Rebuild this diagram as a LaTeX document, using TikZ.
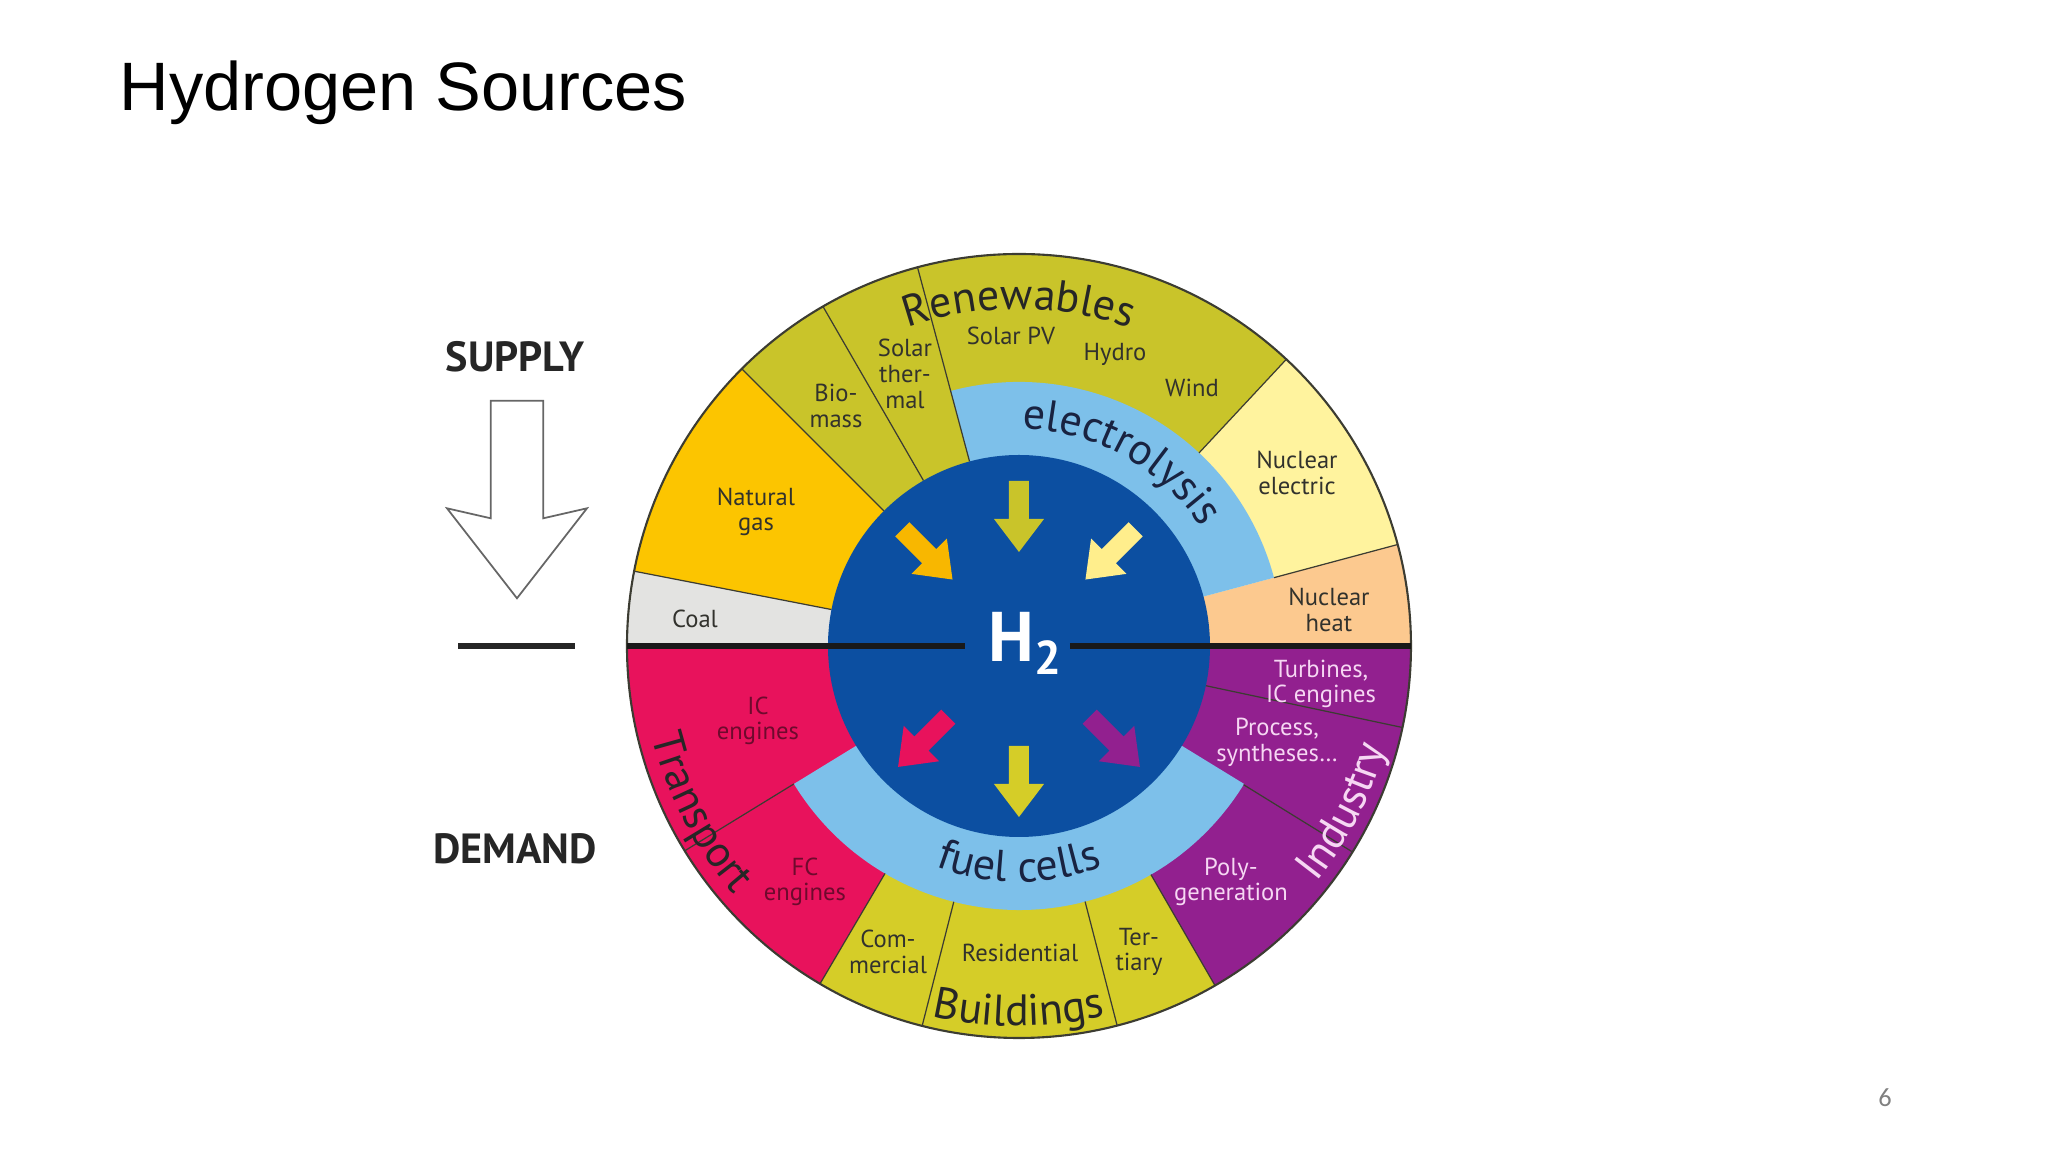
\documentclass[tikz,border=0pt]{standalone}
\usepackage{fontspec}
\setmainfont{PT Sans}
\newfontfamily\titlefont{Liberation Sans}
\newfontfamily\pagefont{Carlito}
\usepackage{tikz}
\usepackage{xcolor}
\usetikzlibrary{decorations.text}

\definecolor{coalgray}{RGB}{227,227,225}
\definecolor{gasgold}{RGB}{252,197,0}
\definecolor{renewolive}{RGB}{201,196,42}
\definecolor{nucpale}{RGB}{255,243,158}
\definecolor{nucpeach}{RGB}{252,201,143}
\definecolor{ringblue}{RGB}{125,192,234}
\definecolor{hubblue}{RGB}{12,79,161}
\definecolor{transred}{RGB}{232,18,92}
\definecolor{buildyellow}{RGB}{213,205,40}
\definecolor{industrypurple}{RGB}{146,32,143}
\definecolor{arroworange}{RGB}{248,183,0}
\definecolor{arrowpale}{RGB}{255,238,140}
\definecolor{divline}{RGB}{60,60,50}
\definecolor{labelgray}{RGB}{50,50,45}
\definecolor{redtext}{RGB}{110,10,45}
\definecolor{pinktext}{RGB}{246,215,243}
\definecolor{navytext}{RGB}{25,35,65}

\begin{document}
\begin{tikzpicture}[x=1cm,y=1cm,
  every node/.style={inner sep=0pt},
  lbl/.style={font=\fontsize{7}{7.3}\selectfont, align=center, text=labelgray},
  sidelbl/.style={font=\fontsize{12}{14}\selectfont\bfseries, text=black!85},
  divider/.style={divline, line width=0.35pt},
  flowarrow/.pic={\fill[#1] (0,0.10) -- (0.38,0.10) -- (0.38,0.25) -- (0.71,0) -- (0.38,-0.25) -- (0.38,-0.10) -- (0,-0.10) -- cycle;}]
\useasboundingbox (-10.19,-5.06) rectangle (10.29,6.46);

% title and page number
\node[anchor=base west] (title) at (-9.0,5.35) {\titlefont\fontsize{19.5}{23}\selectfont Hydrogen Sources};
\node (pageno) at (8.66,-4.52) {\pagefont\fontsize{7.5}{9}\selectfont\color{black!50}6};

% supply / demand side
\node[sidelbl] (supply) at (-5.04,2.89) {SUPPLY};
\node[sidelbl] (demand) at (-5.04,-2.03) {DEMAND};
\draw[black!60, line width=0.5pt, fill=white] (-5.283,2.453) -- (-4.757,2.453) -- (-4.757,1.277) -- (-4.32,1.377) -- (-5.02,0.477) -- (-5.72,1.377) -- (-5.283,1.277) -- cycle;
\draw[black!85, line width=0.06cm] (-5.607,0) -- (-4.44,0);

% outer sectors
\fill[coalgray] (0,0) -- (169:3.92) arc[start angle=169, end angle=180, radius=3.92] -- cycle;
\fill[gasgold] (0,0) -- (135:3.92) arc[start angle=135, end angle=169, radius=3.92] -- cycle;
\fill[renewolive] (0,0) -- (47:3.92) arc[start angle=47, end angle=135, radius=3.92] -- cycle;
\fill[nucpale] (0,0) -- (15:3.92) arc[start angle=15, end angle=47, radius=3.92] -- cycle;
\fill[nucpeach] (0,0) -- (0:3.92) arc[start angle=0, end angle=15, radius=3.92] -- cycle;
\fill[transred] (0,0) -- (180:3.92) arc[start angle=180, end angle=239.5, radius=3.92] -- cycle;
\fill[buildyellow] (0,0) -- (239.5:3.92) arc[start angle=239.5, end angle=300, radius=3.92] -- cycle;
\fill[industrypurple] (0,0) -- (300:3.92) arc[start angle=300, end angle=360, radius=3.92] -- cycle;

% electrolysis and fuel cell rings
\fill[ringblue] (0,0) -- (15:2.64) arc[start angle=15, end angle=105, radius=2.64] -- cycle;
\fill[ringblue] (0,0) -- (211.5:2.64) arc[start angle=211.5, end angle=328.5, radius=2.64] -- cycle;

% dividers
\draw[divider] (169:1.91) -- (169:3.92);
\draw[divider] (135:1.91) -- (135:3.92);
\draw[divider] (120:1.91) -- (120:3.92);
\draw[divider] (105:1.91) -- (105:3.92);
\draw[divider] (47:2.64) -- (47:3.92);
\draw[divider] (15:2.64) -- (15:3.92);
\draw[divider] (211.5:2.64) -- (211.5:3.92);
\draw[divider] (239.5:2.64) -- (239.5:3.92);
\draw[divider] (255.7:2.64) -- (255.7:3.92);
\draw[divider] (284.5:2.64) -- (284.5:3.92);
\draw[divider] (300:2.64) -- (300:3.92);
\draw[divider] (328.3:2.64) -- (328.3:3.92);
\draw[divider] (348:1.91) -- (348:3.92);
\draw[divline, line width=0.6pt] (0,0) circle[radius=3.92];

% hub
\fill[hubblue] (0,0) circle[radius=1.91];
\draw[black!90, line width=0.06cm] (180:3.92) -- (-0.54,0);
\draw[black!90, line width=0.06cm] (0.51,0) -- (0:3.92);
\node[anchor=base west, text=white] (htwo) at (-0.31,-0.16) {\fontsize{20}{20}\selectfont\bfseries H\raisebox{-0.13cm}{\fontsize{13.5}{14}\selectfont 2}};

% flows into and out of the hub
\pic[rotate=-90] at (90:1.65) {flowarrow=renewolive};
\pic[rotate=-45] at (135:1.65) {flowarrow=arroworange};
\pic[rotate=225] at (45:1.65) {flowarrow=arrowpale};
\pic[rotate=225] at (225:1.0) {flowarrow=transred};
\pic[rotate=270] at (270:1.0) {flowarrow=buildyellow};
\pic[rotate=315] at (315:1.0) {flowarrow=industrypurple};

% curved titles
\path[decorate, decoration={text along path, text align=center, text color=black!85, text={|\fontsize{12.5}{14}\selectfont|Renewables}}] (140:3.37) arc[start angle=140, end angle=40, radius=3.37];
\path[decorate, decoration={text along path, text align=center, text color=navytext, text={|\fontsize{12.5}{14}\selectfont|electrolysis}}] (101:2.17) arc[start angle=101, end angle=21, radius=2.17];
\path[decorate, decoration={text along path, text align=center, text color=navytext, text={|\fontsize{12.5}{14}\selectfont|fuel cells}}] (230:2.36) arc[start angle=230, end angle=310, radius=2.36];
\path[decorate, decoration={text along path, text align=center, text color=black!85, text={|\fontsize{12.5}{14}\selectfont|Buildings}}] (230:3.80) arc[start angle=230, end angle=310, radius=3.80];
\path[decorate, decoration={text along path, text align=center, text color=black!85, text={|\fontsize{12.5}{14}\selectfont|Transport}}] (182.5:3.78) arc[start angle=182.5, end angle=232.5, radius=3.78];
\path[decorate, decoration={text along path, text align=center, text color=pinktext, text={|\fontsize{12.5}{14}\selectfont|Industry}}] (308:3.80) arc[start angle=308, end angle=358, radius=3.80];

% supply labels
\node[lbl] (coal) at (-3.24,0.27) {Coal};
\node[lbl] (natgas) at (-2.63,1.34) {Natural\\gas};
\node[lbl] (biomass) at (-1.83,2.40) {Bio-\\mass};
\node[lbl] (solarth) at (-1.14,2.72) {Solar\\ther-\\mal};
\node[lbl] (solarpv) at (-0.08,3.10) {Solar PV};
\node[lbl] (hydro) at (0.96,2.92) {Hydro};
\node[lbl] (wind) at (1.73,2.58) {Wind};
\node[lbl] (nucelec) at (2.78,1.73) {Nuclear\\electric};
\node[lbl] (nucheat) at (3.10,0.36) {Nuclear\\heat};

% demand labels
\node[lbl, text=redtext] (icleft) at (-2.61,-0.75) {IC\\engines};
\node[lbl, text=redtext] (fcengines) at (-2.14,-2.36) {FC\\engines};
\node[lbl] (commercial) at (-1.31,-3.06) {Com-\\mercial};
\node[lbl] (residential) at (0.01,-3.07) {Residential};
\node[lbl] (tertiary) at (1.20,-3.06) {Ter-\\tiary};
\node[lbl, text=pinktext] (polygen) at (2.12,-2.36) {Poly-\\generation};
\node[lbl, text=pinktext] (process) at (2.58,-0.96) {Process,\\syntheses…};
\node[lbl, text=pinktext] (turbines) at (3.02,-0.38) {Turbines,\\IC engines};
\end{tikzpicture}
\end{document}
